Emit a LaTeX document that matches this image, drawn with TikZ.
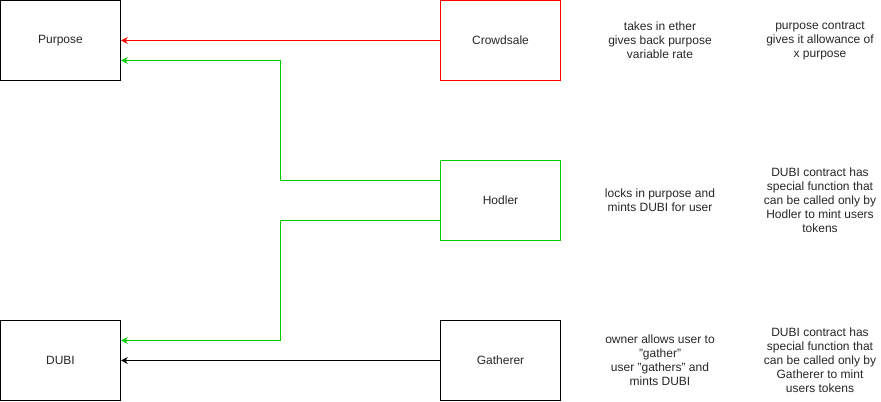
\documentclass[tikz,border=0pt]{standalone}
\usepackage{fontspec}
\setmainfont{Liberation Sans}
\usetikzlibrary{arrows.meta}
\definecolor{linkgreen}{HTML}{00CC00}
\newcommand{\dq}{\symbol{34}}

\begin{document}
\begin{tikzpicture}[x=0.75pt,y=-0.75pt,
  box/.style={draw,line width=0.75pt,minimum width=90pt,minimum height=60pt,inner sep=0pt,font=\fontsize{9}{10.5}\selectfont,text=black!85},
  note/.style={align=center,font=\fontsize{9}{10.5}\selectfont,text=black!85},
  link/.style={-{Stealth[length=5pt,width=5pt,inset=1.5pt]},line width=0.75pt}]
\useasboundingbox (0,0) rectangle (881,402);
% contracts
\node[box] (purpose) at (60.5,40.5) {Purpose};
\node[box] (dubi) at (60.5,360.5) {DUBI};
\node[box,draw=red] (crowdsale) at (500.5,40.5) {Crowdsale};
\node[box,draw=linkgreen] (hodler) at (500.5,200.5) {Hodler};
\node[box] (gatherer) at (500.5,360.5) {Gatherer};
% connectors
\draw[link,red] (crowdsale.west) -- (purpose.east);
\draw[link,linkgreen] ([yshift=15pt]hodler.west) -- ++(-160,0) |- ([yshift=-15pt]purpose.east);
\draw[link,linkgreen] ([yshift=-15pt]hodler.west) -- ++(-160,0) |- ([yshift=15pt]dubi.east);
\draw[link] (gatherer.west) -- (dubi.east);
% notes
\node[note] (n1) at (660,40.5) {takes in ether\\gives back purpose\\variable rate};
\node[note] (n2) at (820,40.5) {purpose contract\\gives it allowance of\\x purpose};
\node[note] (n3) at (660,200.5) {locks in purpose and\\mints DUBI for user};
\node[note] (n4) at (820,200.5) {DUBI contract has\\special function that\\can be called only by\\Hodler to mint users\\tokens};
\node[note] (n5) at (660,360.5) {owner allows user to\\\dq gather\dq\\user \dq gathers\dq{} and\\mints DUBI};
\node[note] (n6) at (820,360.5) {DUBI contract has\\special function that\\can be called only by\\Gatherer to mint\\users tokens};
\end{tikzpicture}
\end{document}
